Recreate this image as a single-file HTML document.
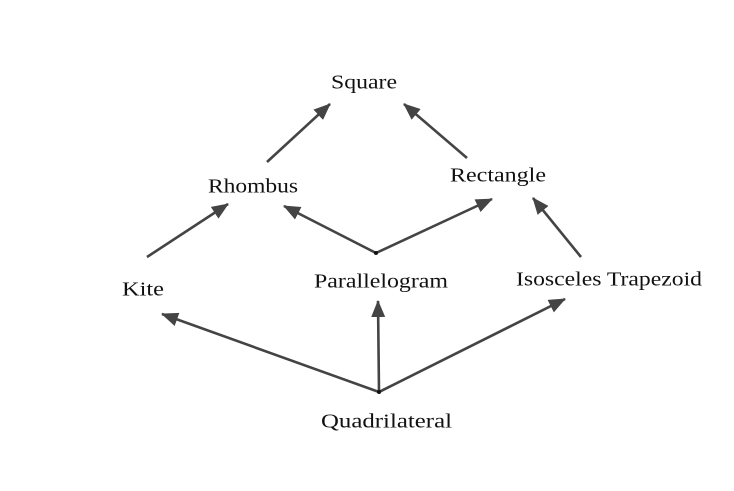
<!DOCTYPE html>
<html><head><style>
html,body{margin:0;padding:0;background:#fff;}
svg text{font-family:"Liberation Serif",serif;font-size:20px;fill:#111;text-anchor:middle;dominant-baseline:middle;}
</style></head><body>
<svg width="734" height="486" viewBox="0 0 734 486" xmlns="http://www.w3.org/2000/svg">
<defs>
<marker id="a" markerUnits="userSpaceOnUse" markerWidth="18" markerHeight="14" refX="16" refY="7" orient="auto">
<path d="M0,0 L17,7 L0,14 Z" fill="#444"/>
</marker>
</defs>
<g stroke="#444" stroke-width="2.6" fill="none" marker-end="url(#a)">
<line x1="267" y1="162" x2="330" y2="104"/>
<line x1="467" y1="158" x2="404" y2="104"/>
<line x1="147" y1="257" x2="228" y2="204"/>
<line x1="376" y1="253" x2="284" y2="206"/>
<line x1="376" y1="253" x2="492" y2="199"/>
<line x1="581" y1="257" x2="533" y2="198"/>
<line x1="379" y1="392" x2="162" y2="314"/>
<line x1="379" y1="392" x2="378" y2="301"/>
<line x1="379" y1="392" x2="565" y2="299"/>
</g>
<circle cx="376" cy="253" r="2" fill="#111"/>
<circle cx="379" cy="392" r="2" fill="#111"/>
<text x="364" y="84" textLength="66" lengthAdjust="spacingAndGlyphs">Square</text>
<text x="253" y="188" textLength="90" lengthAdjust="spacingAndGlyphs">Rhombus</text>
<text x="498" y="177" textLength="96" lengthAdjust="spacingAndGlyphs">Rectangle</text>
<text x="143" y="291" textLength="42" lengthAdjust="spacingAndGlyphs">Kite</text>
<text x="381" y="283" textLength="134" lengthAdjust="spacingAndGlyphs">Parallelogram</text>
<text x="609" y="281" textLength="186" lengthAdjust="spacingAndGlyphs">Isosceles Trapezoid</text>
<text x="386.5" y="423" textLength="131" lengthAdjust="spacingAndGlyphs">Quadrilateral</text>
</svg>
</body></html>
